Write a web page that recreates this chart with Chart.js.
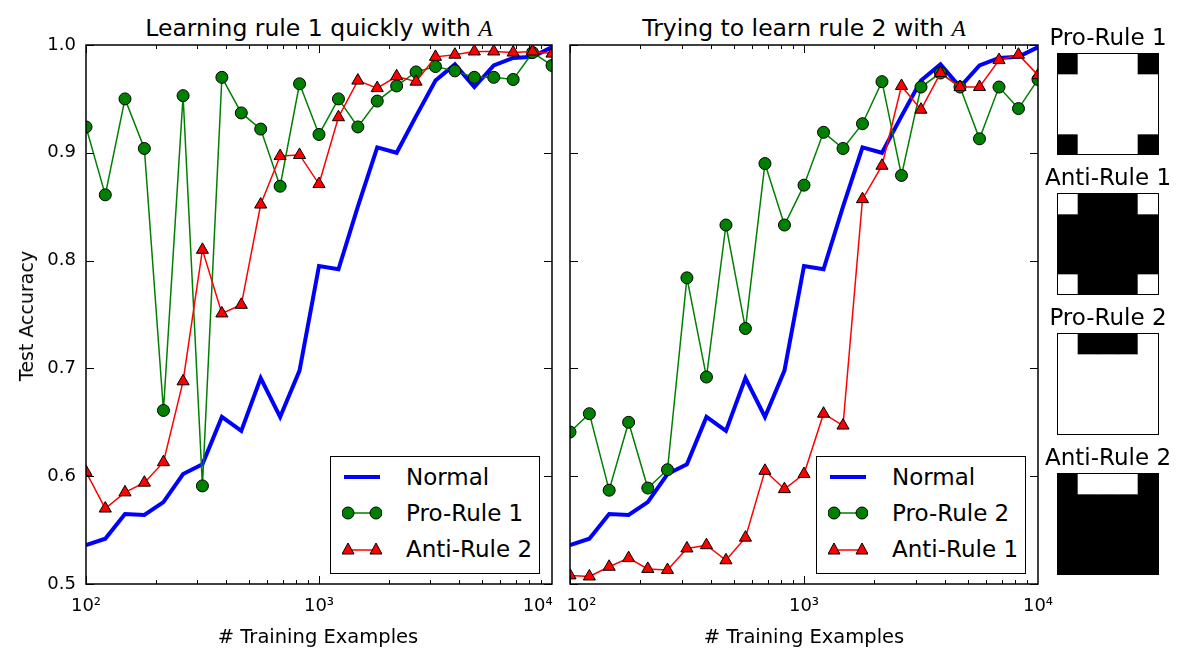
<!DOCTYPE html>
<html lang="en">
<head>
    <meta charset="UTF-8">
    <title>Rule learning accuracy</title>
    <script src="https://cdn.jsdelivr.net/npm/chart.js"></script>
    <style>
        body {
            margin: 0;
            width: 1190px;
            height: 665px;
            background: #fff;
            font-family: 'DejaVu Sans', sans-serif;
            position: relative;
            overflow: hidden;
        }
        .box { position: absolute; }
        .title {
            position: absolute;
            font-size: 23.5px;
            line-height: 28px;
            text-align: center;
            white-space: nowrap;
        }
        .title i { font-family: 'Liberation Serif', serif; }
        .small { font-size: 23px; }
        .xlabel {
            position: absolute;
            font-size: 19.5px;
            line-height: 24px;
            text-align: center;
            width: 300px;
        }
        .legend {
            position: absolute;
            width: 208px;
            height: 114px;
            border: 1px solid #000;
            background: #fff;
            padding-top: 2px;
            box-sizing: content-box;
        }
        .legend .row {
            height: 36px;
            display: flex;
            align-items: center;
            font-size: 23px;
        }
        .legend svg { margin-left: 11px; margin-right: 24px; }
        .rule {
            position: absolute;
            width: 100px;
            height: 100px;
            border: 1px solid #000;
        }
    </style>
</head>
<body>
    <div class="title" style="left:86px;width:466px;top:14px;">Learning rule 1 quickly with <i>A</i></div>
    <div class="title" style="left:570px;width:468px;top:14px;">Trying to learn rule 2 with <i>A</i></div>

    <div class="box" style="left:0;top:0;width:580px;height:630px;"><canvas id="leftChart"></canvas></div>
    <div class="box" style="left:540px;top:0;width:520px;height:630px;"><canvas id="rightChart"></canvas></div>

    <div style="position:absolute;left:26px;top:316px;transform:translate(-50%,-50%) rotate(-90deg);font-size:19px;white-space:nowrap;">Test Accuracy</div>
    <div class="xlabel" style="left:168px;top:625px;"># Training Examples</div>
    <div class="xlabel" style="left:654px;top:625px;"># Training Examples</div>

    <div class="legend" id="leftLegend" style="left:330px;top:456px;"></div>
    <div class="legend" id="rightLegend" style="left:816px;top:456px;"></div>

    <div class="title small" style="left:1008px;width:200px;top:23px;">Pro-Rule 1</div>
    <div class="rule" style="left:1057px;top:53px;"><canvas id="rule1"></canvas></div>
    <div class="title small" style="left:1008px;width:200px;top:163px;">Anti-Rule 1</div>
    <div class="rule" style="left:1057px;top:193px;"><canvas id="rule2"></canvas></div>
    <div class="title small" style="left:1008px;width:200px;top:303px;">Pro-Rule 2</div>
    <div class="rule" style="left:1057px;top:333px;"><canvas id="rule3"></canvas></div>
    <div class="title small" style="left:1008px;width:200px;top:443px;">Anti-Rule 2</div>
    <div class="rule" style="left:1057px;top:473px;"><canvas id="rule4"></canvas></div>

    <script>
        // training set sizes (log spaced)
        const sizes = [100, 121, 147, 178, 215, 261, 316, 383, 464, 562, 681, 825, 1000,
                       1212, 1468, 1778, 2154, 2610, 3162, 3831, 4642, 5623, 6813, 8254, 10000];

        const normal = [0.536, 0.542, 0.565, 0.564, 0.576, 0.602, 0.611, 0.655, 0.642, 0.691, 0.655, 0.698, 0.795,
                        0.792, 0.850, 0.905, 0.900, 0.934, 0.967, 0.982, 0.961, 0.981, 0.988, 0.989, 0.998];
        const proRule1 = [0.924, 0.861, 0.950, 0.904, 0.661, 0.953, 0.591, 0.970, 0.937, 0.922, 0.869, 0.964, 0.917,
                          0.950, 0.924, 0.948, 0.962, 0.975, 0.980, 0.976, 0.970, 0.970, 0.968, 0.993, 0.981];
        const antiRule2 = [0.604, 0.570, 0.585, 0.594, 0.613, 0.688, 0.810, 0.751, 0.759, 0.852, 0.897, 0.898, 0.871,
                           0.933, 0.967, 0.960, 0.971, 0.966, 0.989, 0.991, 0.994, 0.994, 0.993, 0.994, 0.992];
        const proRule2 = [0.641, 0.658, 0.587, 0.650, 0.589, 0.606, 0.784, 0.692, 0.833, 0.737, 0.890, 0.833, 0.870,
                          0.919, 0.904, 0.927, 0.966, 0.879, 0.961, 0.974, 0.961, 0.913, 0.961, 0.941, 0.968];
        const antiRule1 = [0.508, 0.507, 0.516, 0.524, 0.514, 0.513, 0.533, 0.536, 0.522, 0.543, 0.605, 0.588, 0.602,
                           0.658, 0.647, 0.857, 0.888, 0.962, 0.940, 0.974, 0.961, 0.961, 0.986, 0.991, 0.972];

        const yTicks = [0.5, 0.6, 0.7, 0.8, 0.9, 1.0];
        const xTicks = [100, 1000, 10000];
        // figure spaces nudge the edge labels apart where the two panels meet
        const leftXLabels = ['10\u00b2', '10\u00b3', '10\u2074\u2007\u2007 '];
        const rightXLabels = ['\u2007\u200710\u00b2', '10\u00b3', '10\u2074'];

        // 5x5 rule masks, 1 = black
        const maskPro1 = [[1,0,0,0,1],[0,0,0,0,0],[0,0,0,0,0],[0,0,0,0,0],[1,0,0,0,1]];
        const maskAnti1 = [[0,1,1,1,0],[1,1,1,1,1],[1,1,1,1,1],[1,1,1,1,1],[0,1,1,1,0]];
        const maskPro2 = [[0,1,1,1,0],[0,0,0,0,0],[0,0,0,0,0],[0,0,0,0,0],[0,0,0,0,0]];
        const maskAnti2 = [[1,0,0,0,1],[1,1,1,1,1],[1,1,1,1,1],[1,1,1,1,1],[1,1,1,1,1]];

        const toPoints = vals => vals.map((v, i) => ({ x: sizes[i], y: v }));

        // matplotlib-style frame with inward ticks on all sides
        const frameTicks = {
            id: 'frameTicks',
            afterDraw(chart) {
                const { ctx, chartArea: a, scales: { x, y } } = chart;
                ctx.save();
                ctx.strokeStyle = '#000';
                ctx.lineWidth = 1;
                ctx.beginPath();
                yTicks.forEach(v => {
                    const py = Math.round(y.getPixelForValue(v)) + 0.5;
                    ctx.moveTo(a.left, py); ctx.lineTo(a.left + 8, py);
                    ctx.moveTo(a.right - 8, py); ctx.lineTo(a.right, py);
                });
                [100, 1000].forEach(dec => {
                    for (let m = 1; m <= 9; m++) {
                        const px = Math.round(x.getPixelForValue(m * dec)) + 0.5;
                        const len = m === 1 ? 8 : 4;
                        ctx.moveTo(px, a.bottom); ctx.lineTo(px, a.bottom - len);
                        ctx.moveTo(px, a.top); ctx.lineTo(px, a.top + len);
                    }
                });
                ctx.stroke();
                ctx.lineWidth = 1.5;
                ctx.strokeRect(a.left, a.top, a.width, a.height);
                ctx.restore();
            }
        };

        function makeChart(id, pro, anti, xLabels, showY, yWidth, padRight) {
            return new Chart(document.getElementById(id), {
                type: 'line',
                data: {
                    datasets: [
                        {
                            label: 'Normal', data: toPoints(normal), order: 3,
                            borderColor: '#0000ff', borderWidth: 4, pointRadius: 0, clip: 0
                        },
                        {
                            label: pro.label, data: toPoints(pro.values), order: 2,
                            borderColor: '#008000', borderWidth: 1.5, clip: 0,
                            pointStyle: 'circle', pointRadius: 6,
                            pointBackgroundColor: '#008000', pointBorderColor: '#000', pointBorderWidth: 1
                        },
                        {
                            label: anti.label, data: toPoints(anti.values), order: 1,
                            borderColor: '#ff0000', borderWidth: 1.5, clip: 0,
                            pointStyle: 'triangle', pointRadius: 7,
                            pointBackgroundColor: '#ff0000', pointBorderColor: '#000', pointBorderWidth: 1
                        }
                    ]
                },
                options: {
                    responsive: true,
                    maintainAspectRatio: false,
                    animation: false,
                    layout: { padding: { top: 45, right: padRight, left: 0, bottom: 0 } },
                    plugins: { legend: { display: false }, tooltip: { enabled: false } },
                    scales: {
                        x: {
                            type: 'logarithmic', min: 100, max: 10000,
                            grid: { display: false, drawTicks: false },
                            border: { display: false },
                            afterBuildTicks: s => { s.ticks = xTicks.map(v => ({ value: v })); },
                            afterFit: s => { s.height = 46; s.paddingLeft = 0; s.paddingRight = 0; },
                            ticks: {
                                autoSkip: false, maxRotation: 0, padding: 12, color: '#000',
                                font: { family: 'DejaVu Sans', size: 18 },
                                callback: v => xLabels[xTicks.indexOf(v)]
                            }
                        },
                        y: {
                            min: 0.5, max: 1.0,
                            grid: { display: false, drawTicks: false },
                            border: { display: false },
                            afterBuildTicks: s => { s.ticks = yTicks.map(v => ({ value: v })); },
                            afterFit: s => { s.width = yWidth; s.paddingTop = 0; s.paddingBottom = 0; },
                            ticks: {
                                display: showY, padding: 10, color: '#000',
                                font: { family: 'DejaVu Sans', size: 18 },
                                callback: v => v.toFixed(1)
                            }
                        }
                    }
                },
                plugins: [frameTicks]
            });
        }

        makeChart('leftChart', { label: 'Pro-Rule 1', values: proRule1 },
                  { label: 'Anti-Rule 2', values: antiRule2 }, leftXLabels, true, 86, 28);
        makeChart('rightChart', { label: 'Pro-Rule 2', values: proRule2 },
                  { label: 'Anti-Rule 1', values: antiRule1 }, rightXLabels, false, 30, 22);

        // legends
        function sample(kind) {
            if (kind === 'normal') {
                return '<svg width="40" height="20"><line x1="2" y1="10" x2="38" y2="10" stroke="#0000ff" stroke-width="4"/></svg>';
            }
            if (kind === 'pro') {
                return '<svg width="40" height="20"><line x1="6" y1="10" x2="34" y2="10" stroke="#008000" stroke-width="1.5"/>' +
                    '<circle cx="6" cy="10" r="6" fill="#008000" stroke="#000"/><circle cx="34" cy="10" r="6" fill="#008000" stroke="#000"/></svg>';
            }
            return '<svg width="40" height="20"><line x1="6" y1="11" x2="34" y2="11" stroke="#ff0000" stroke-width="1.5"/>' +
                '<polygon points="6,4 0,15 12,15" fill="#ff0000" stroke="#000"/><polygon points="34,4 28,15 40,15" fill="#ff0000" stroke="#000"/></svg>';
        }
        function fillLegend(id, proLabel, antiLabel) {
            document.getElementById(id).innerHTML =
                '<div class="row">' + sample('normal') + 'Normal</div>' +
                '<div class="row">' + sample('pro') + proLabel + '</div>' +
                '<div class="row">' + sample('anti') + antiLabel + '</div>';
        }
        fillLegend('leftLegend', 'Pro-Rule 1', 'Anti-Rule 2');
        fillLegend('rightLegend', 'Pro-Rule 2', 'Anti-Rule 1');

        // rule masks as stacked 5x5 bars
        function ruleChart(id, mask) {
            new Chart(document.getElementById(id), {
                type: 'bar',
                data: {
                    labels: ['0', '1', '2', '3', '4'],
                    datasets: mask.map(row => ({
                        data: row.map(() => 1),
                        backgroundColor: row.map(c => c ? '#000' : '#fff'),
                        borderWidth: 0,
                        barPercentage: 1,
                        categoryPercentage: 1
                    }))
                },
                options: {
                    responsive: true,
                    maintainAspectRatio: false,
                    animation: false,
                    layout: { padding: 0 },
                    plugins: { legend: { display: false }, tooltip: { enabled: false } },
                    scales: {
                        x: { display: false, stacked: true },
                        y: { display: false, stacked: true, min: 0, max: 5, reverse: true }
                    }
                }
            });
        }
        ruleChart('rule1', maskPro1);
        ruleChart('rule2', maskAnti1);
        ruleChart('rule3', maskPro2);
        ruleChart('rule4', maskAnti2);
    </script>
</body>
</html>
